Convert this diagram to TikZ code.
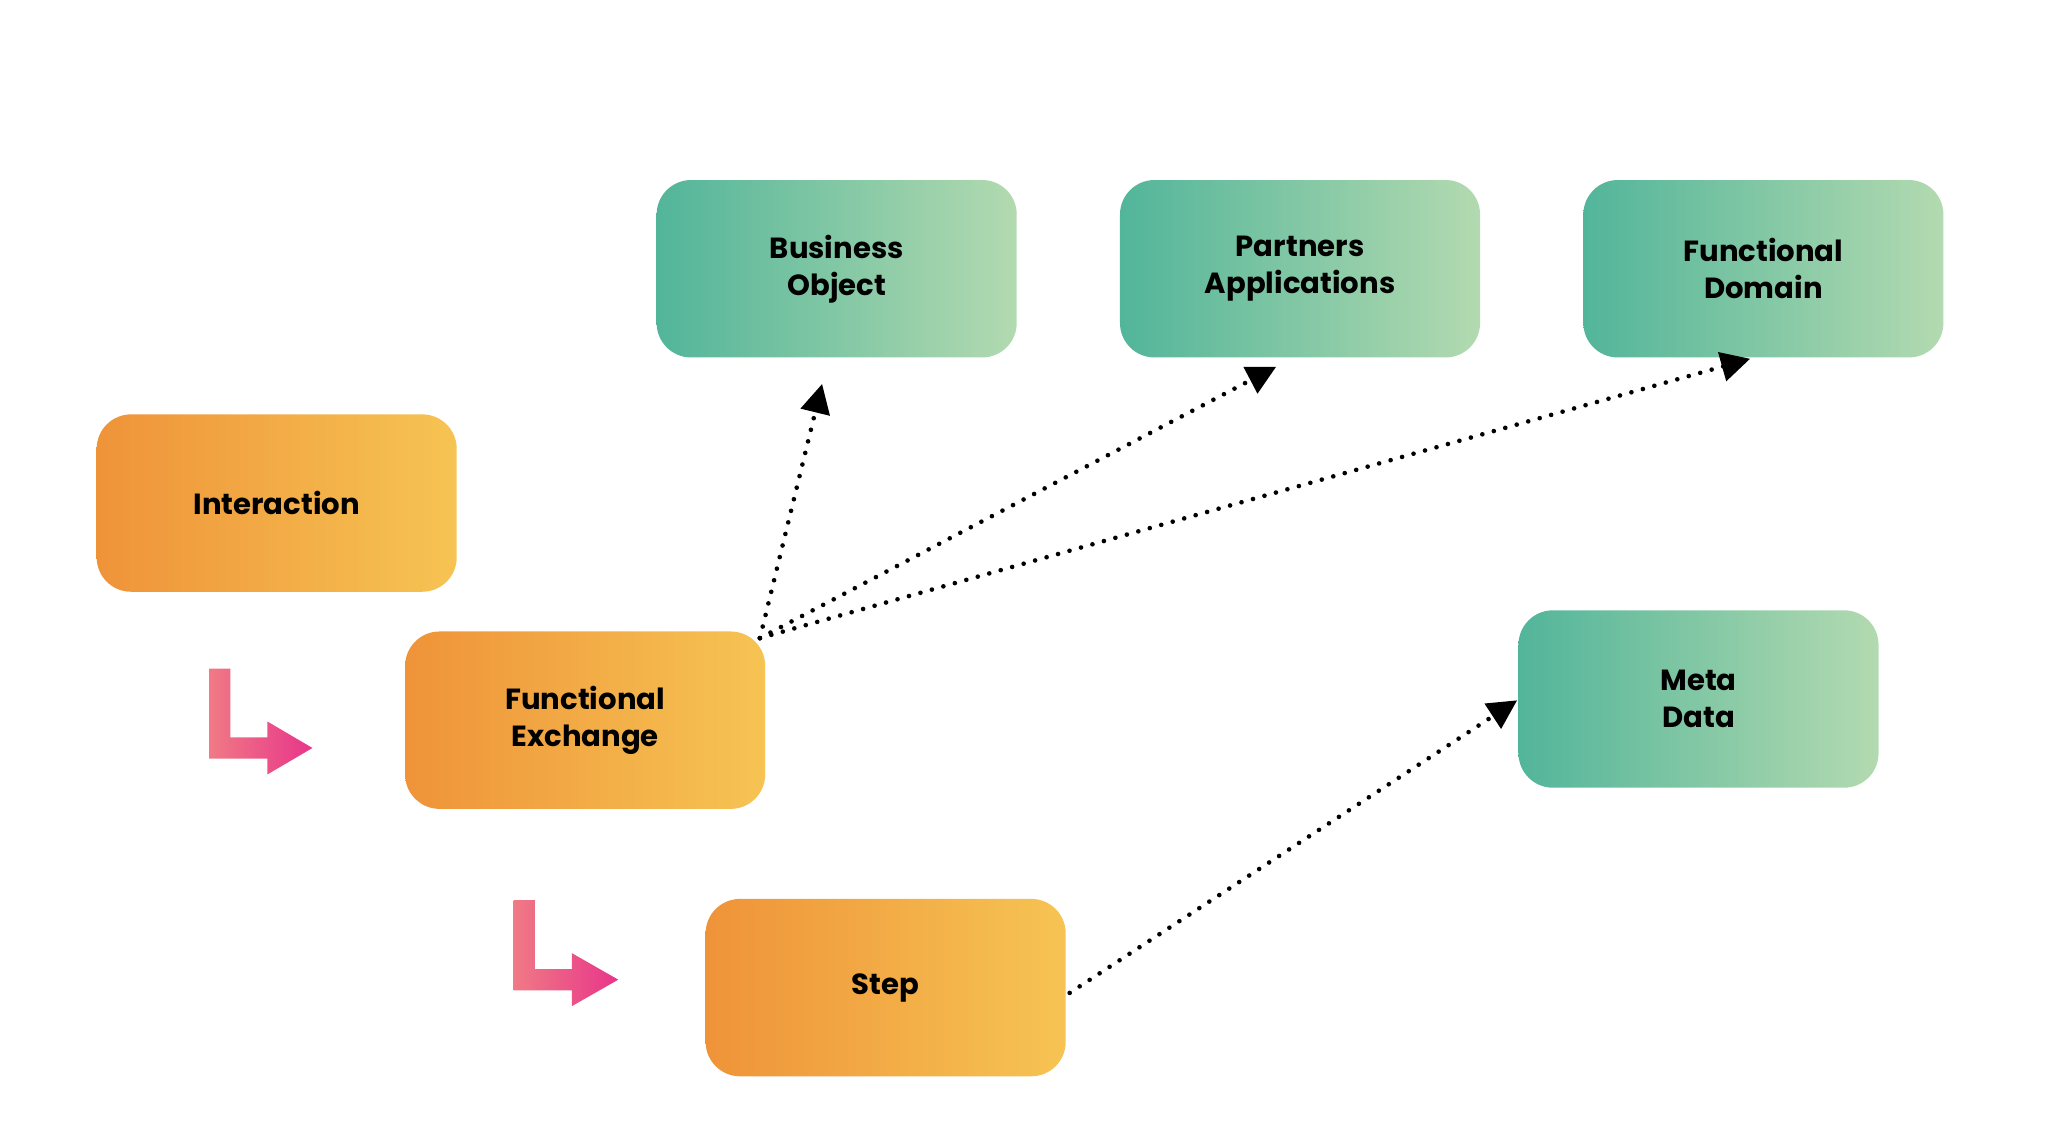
\documentclass[tikz,border=0pt]{standalone}
\usepackage{fontspec}
\setmainfont{Poppins}
\usetikzlibrary{arrows.meta}
\definecolor{oL}{HTML}{EF9339}\definecolor{oR}{HTML}{F6C453}
\definecolor{tL}{HTML}{52B59A}\definecolor{tR}{HTML}{B3DAB0}
\definecolor{pL}{HTML}{F07A85}\definecolor{pR}{HTML}{E8358A}
\begin{document}
\begin{tikzpicture}[x=1pt,y=-1pt,
 box/.style={minimum width=272pt,minimum height=134pt,rounded corners=26pt,align=center,font=\fontsize{22}{28}\selectfont\bfseries,inner sep=0pt},
 orange/.style={box,left color=oL,right color=oR},
 teal/.style={box,left color=tL,right color=tR},
 dot/.style={line width=3.5pt,dash pattern=on 0pt off 9pt,line cap=round,-{Triangle[length=22pt,width=22pt]}},
 pink/.style={left color=pL,right color=pR}]
\useasboundingbox (0,0) rectangle (1547,859);
\node[teal] (bo) at (632,203) {Business\\Object};
\node[teal] (pa) at (982,203) {Partners\\Applications};
\node[teal] (fd) at (1332,203) {Functional\\Domain};
\node[orange] (in) at (209,380) {Interaction};
\node[orange] (fe) at (442,544) {Functional\\Exchange};
\node[orange] (st) at (669,746) {Step};
\node[teal] (md) at (1283,528) {Meta\\Data};
\coordinate (s) at (574,482);
\coordinate (t1) at (621,290);
\coordinate (t2) at (964,277);
\coordinate (t3) at (1322,271);
\coordinate (t4) at (1146,529);
\coordinate (s2) at (808,750);
\draw[dot] (s) -- (t1);
\draw[dot] (s) -- (t2);
\draw[dot] (s) -- (t3);
\draw[dot] (s2) -- (t4);
\shade[pink] (158,505) -- (174,505) -- (174,557) -- (202,557) -- (202,545) -- (236,565) -- (202,585) -- (202,573) -- (158,573) -- cycle;
\shade[pink] (388,680) -- (404,680) -- (404,732) -- (432,732) -- (432,720) -- (467,740) -- (432,760) -- (432,748) -- (388,748) -- cycle;
\end{tikzpicture}
\end{document}
